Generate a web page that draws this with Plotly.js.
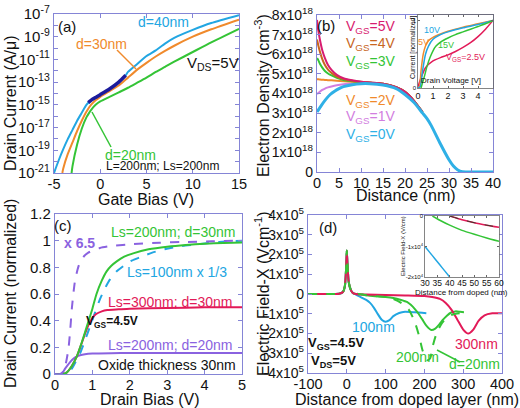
<!DOCTYPE html>
<html>
<head>
<meta charset="utf-8">
<script src="https://cdn.plot.ly/plotly-3.0.1.min.js"></script>
<style>
  html, body { margin: 0; padding: 0; background: #fff; }
  #fig { width: 520px; height: 408px; }
</style>
</head>
<body>
<div id="fig"></div>
<script>
// ---------- (a) transfer characteristics, V_DS = 5 V ----------
const gateD40 = [-5, -4.5, -4, -3.5, -3, -2.5, -2, -1.5, -1, -0.5, 0, 1, 2, 2.75, 3, 4, 5, 6, 7, 8, 10, 12, 15];
const currD40 = [1e-21, 1.26e-20, 1.26e-19, 1e-18, 6.3e-18, 4e-17, 2e-16, 1e-15, 2.5e-15, 4.5e-15, 7.9e-15, 2.5e-14, 1e-13, 4e-13, 7.9e-13, 4e-12, 2e-11, 6.3e-11, 2.5e-10, 7.9e-10, 4e-9, 1.6e-8, 7.9e-8];
const gateD30 = [-4.1, -4, -3.5, -3, -2.5, -2, -1.5, -1, -0.5, 0, 1, 2, 3, 4, 5, 6, 7, 8, 10, 12, 15];
const currD30 = [1e-21, 2.5e-21, 5e-20, 5e-19, 5e-18, 4e-17, 2.5e-16, 1e-15, 2.5e-15, 5e-15, 1.6e-14, 5e-14, 2.5e-13, 1.26e-12, 5e-12, 1.8e-11, 5.6e-11, 1.6e-10, 1e-9, 4.5e-9, 3.2e-8];
const gateD20 = [-3.1, -3, -2.5, -2, -1.5, -1.2, -1, -0.5, 0, 1, 2, 3, 4, 5, 6, 7, 8, 10, 12, 15];
const currD20 = [1e-21, 4e-21, 3.2e-19, 7.9e-18, 7.9e-17, 2e-16, 3.5e-16, 1e-15, 2e-15, 5e-15, 1.26e-14, 3.2e-14, 8.9e-14, 2.5e-13, 7.9e-13, 2.2e-12, 6.3e-12, 4.5e-11, 3.2e-10, 5e-9];
const gateSeg = [-1.3, -1, -0.5, 0, 1, 2, 2.75];
const currSeg = [1.6e-15, 2.5e-15, 4.5e-15, 7.9e-15, 2.5e-14, 1e-13, 4e-13];
const logTicks = [1e-7, 1e-8, 1e-9, 1e-10, 1e-11, 1e-12, 1e-13, 1e-14, 1e-15, 1e-16, 1e-17, 1e-18, 1e-19, 1e-20, 1e-21];
const logTickText = ['10<sup>-7</sup>', '', '10<sup>-9</sup>', '', '10<sup>-11</sup>', '', '10<sup>-13</sup>', '', '10<sup>-15</sup>', '', '10<sup>-17</sup>', '', '10<sup>-19</sup>', '', '10<sup>-21</sup>'];

// ---------- (b) electron density along the channel ----------
const distB = [0, 0.3, 0.7, 1.2, 1.8, 2.5, 3.3, 4.5, 6, 8, 10, 12, 15, 18, 20, 22, 24];
const nVg5 = [7.75e18, 7.2e18, 6.7e18, 6.2e18, 5.8e18, 5.45e18, 5.2e18, 4.95e18, 4.78e18, 4.67e18, 4.6e18, 4.56e18, 4.5e18, 4.32e18, 4.08e18, 3.64e18, 3.05e18];
const nVg4 = [6.75e18, 6.45e18, 6.1e18, 5.75e18, 5.45e18, 5.22e18, 5.05e18, 4.86e18, 4.74e18, 4.65e18, 4.6e18, 4.56e18, 4.5e18, 4.32e18, 4.08e18, 3.64e18, 3.05e18];
const nVg3 = [5.8e18, 5.7e18, 5.5e18, 5.32e18, 5.15e18, 5.02e18, 4.92e18, 4.8e18, 4.69e18, 4.63e18, 4.58e18, 4.55e18, 4.5e18, 4.32e18, 4.08e18, 3.64e18, 3.05e18];
const nVg2 = [4.72e18, 4.72e18, 4.71e18, 4.7e18, 4.69e18, 4.68e18, 4.67e18, 4.65e18, 4.63e18, 4.6e18, 4.58e18, 4.55e18, 4.5e18, 4.32e18, 4.08e18, 3.64e18, 3.05e18];
const nVg1 = [3.98e18, 4.02e18, 4.1e18, 4.18e18, 4.25e18, 4.31e18, 4.36e18, 4.42e18, 4.47e18, 4.51e18, 4.53e18, 4.52e18, 4.47e18, 4.3e18, 4.05e18, 3.6e18, 3.02e18];
const distB0 = [0, 1, 2, 3, 4, 5, 6, 8, 10, 12, 15, 18, 20, 22, 24, 25, 26, 28, 30, 31, 32, 33, 34, 40];
const nVg0 = [3.06e18, 3.4e18, 3.7e18, 3.95e18, 4.12e18, 4.25e18, 4.35e18, 4.45e18, 4.5e18, 4.5e18, 4.43e18, 4.25e18, 3.95e18, 3.55e18, 3.0e18, 2.72e18, 2.35e18, 1.45e18, 0.62e18, 0.3e18, 0.1e18, 0.01e18, 0, 0];
const densTicks = [0, 1e18, 2e18, 3e18, 4e18, 5e18, 6e18, 7e18, 8e18];
const densTickText = ['0', '1x10<sup>18</sup>', '2x10<sup>18</sup>', '3x10<sup>18</sup>', '4x10<sup>18</sup>', '5x10<sup>18</sup>', '6x10<sup>18</sup>', '7x10<sup>18</sup>', '8x10<sup>18</sup>'];

// inset of (b): normalized output curves
const vdIn5 = [0, 0.1, 0.2, 0.35, 0.5, 0.7, 1, 1.5, 2, 3, 4, 5];
const iIn5 = [0, 0.02, 0.25, 0.5, 0.62, 0.7, 0.75, 0.8, 0.84, 0.9, 0.95, 1];
const vdIn10 = [0, 0.15, 0.3, 0.5, 0.7, 1, 1.5, 2, 3, 4, 5];
const iIn10 = [0, 0.02, 0.25, 0.5, 0.62, 0.72, 0.79, 0.83, 0.89, 0.94, 1];
const vdIn15 = [0.2, 0.4, 0.6, 0.8, 1, 1.2, 1.5, 2, 2.5, 3, 3.5, 4, 4.5, 5];
const iIn15 = [0, 0.15, 0.32, 0.45, 0.55, 0.62, 0.68, 0.74, 0.79, 0.83, 0.87, 0.91, 0.95, 1];
const vdIn25 = [0, 0.2, 0.5, 1, 1.5, 2, 2.5, 3, 3.5, 4, 4.5, 5];
const iIn25 = [0.02, 0.15, 0.3, 0.4, 0.45, 0.49, 0.54, 0.6, 0.67, 0.76, 0.87, 1];

// ---------- (c) output characteristics, V_GS = 4.5 V ----------
const vdGreen = [0, 0.2, 0.31, 0.45, 0.58, 0.72, 0.85, 1.0, 1.11, 1.25, 1.38, 1.5, 1.65, 1.85, 2.09, 2.5, 3.0, 3.5, 4.0, 4.5, 5.0];
const idGreen = [0, 0, 0.01, 0.06, 0.13, 0.24, 0.355, 0.49, 0.6, 0.7, 0.77, 0.81, 0.845, 0.88, 0.905, 0.935, 0.955, 0.968, 0.977, 0.983, 0.987];
const vdRed = [0, 0.2, 0.31, 0.45, 0.58, 0.7, 0.8, 0.9, 1.0, 1.1, 1.25, 1.4, 1.7, 2.0, 3.0, 4.0, 5.0];
const idRed = [0, 0, 0.01, 0.06, 0.13, 0.22, 0.3, 0.37, 0.42, 0.45, 0.47, 0.48, 0.485, 0.49, 0.495, 0.5, 0.5];
const vdPurple = [0, 0.13, 0.2, 0.27, 0.35, 0.42, 0.49, 0.58, 0.67, 0.8, 1.0, 1.5, 2, 3, 4, 5];
const idPurple = [0, 0, 0.01, 0.04, 0.07, 0.095, 0.115, 0.13, 0.14, 0.148, 0.153, 0.156, 0.157, 0.158, 0.158, 0.158];
const vdPurpleX = [0, 0.15, 0.22, 0.29, 0.36, 0.41, 0.45, 0.49, 0.53, 0.6, 0.67, 0.78, 0.89, 1.0, 1.2, 1.5, 2.1, 2.8, 3.43, 4.2, 5.0];
const idPurpleX = [0, 0, 0.02, 0.08, 0.19, 0.34, 0.49, 0.6, 0.69, 0.78, 0.84, 0.885, 0.91, 0.925, 0.945, 0.96, 0.975, 0.985, 0.99, 0.995, 1.0];
const vdCyan = [0, 0.3, 0.36, 0.45, 0.55, 0.67, 0.8, 0.94, 1.07, 1.2, 1.35, 1.47, 1.65, 1.83, 2.05, 2.27, 2.6, 2.99, 3.4, 3.88, 4.4, 5.0];
const idCyan = [0, 0, 0.01, 0.04, 0.09, 0.155, 0.25, 0.36, 0.46, 0.56, 0.65, 0.71, 0.77, 0.81, 0.85, 0.875, 0.91, 0.94, 0.96, 0.975, 0.99, 1.0];

// ---------- (d) lateral electric field ----------
const posSpike = [-100, -50, -30, -20, -10, -5, -2, 0, 2, 5, 10, 15, 20];
const fieldSpike = [0, 0, 0, 0.01e5, 0.1e5, 0.4e5, 1.2e5, 2.2e5, 1.4e5, 0.6e5, 0.22e5, 0.06e5, 0.01e5];
const pos100 = [30, 40, 50, 60, 70, 80, 90, 100, 110, 120, 135, 150, 175, 205];
const field100 = [-0.1e5, -0.2e5, -0.3e5, -0.45e5, -0.7e5, -1.02e5, -1.3e5, -1.4e5, -1.32e5, -1.12e5, -0.96e5, -0.9e5, -0.93e5, -0.98e5];
const pos200 = [30, 40, 50, 60, 80, 100, 120, 140, 155, 165, 175, 185, 195, 205, 218, 228, 238, 248, 258, 268, 280, 292, 302];
const field200 = [0.005e5, -0.03e5, -0.06e5, -0.085e5, -0.12e5, -0.15e5, -0.2e5, -0.3e5, -0.4e5, -0.55e5, -0.75e5, -1.0e5, -1.3e5, -1.6e5, -1.82e5, -1.75e5, -1.55e5, -1.3e5, -1.1e5, -0.95e5, -0.88e5, -0.9e5, -0.92e5];
const pos300 = [30, 50, 100, 150, 200, 220, 240, 255, 270, 285, 300, 313, 326, 340, 355, 375, 400];
const field300 = [-0.02e5, -0.03e5, -0.05e5, -0.07e5, -0.1e5, -0.15e5, -0.25e5, -0.45e5, -0.8e5, -1.3e5, -1.8e5, -2.0e5, -1.8e5, -1.35e5, -1.08e5, -0.98e5, -0.97e5];
const posThin = [30, 40, 60, 80, 100, 120, 140, 160, 175, 186, 196, 208, 215, 222, 232, 246, 260, 280, 300];
const fieldThin = [0, -0.03e5, -0.085e5, -0.12e5, -0.16e5, -0.25e5, -0.45e5, -0.8e5, -1.4e5, -2.1e5, -2.9e5, -3.35e5, -3.25e5, -2.6e5, -1.95e5, -1.45e5, -1.15e5, -1.0e5, -0.95e5];
const fieldTicks = [-4e5, -3e5, -2e5, -1e5, 0, 1e5, 2e5, 3e5, 4e5];
const fieldTickText = ['-4x10<sup>5</sup>', '-3x10<sup>5</sup>', '-2x10<sup>5</sup>', '-1x10<sup>5</sup>', '0', '1x10<sup>5</sup>', '2x10<sup>5</sup>', '3x10<sup>5</sup>', '4x10<sup>5</sup>'];

// inset of (d): field close to the doped layer
const posIn100 = [30, 32, 34, 36, 38, 40];
const fieldIn100 = [-1.0e4, -1.2e4, -1.4e4, -1.6e4, -1.8e4, -2.0e4];
const posIn200 = [33, 36, 40, 45, 50, 55, 60];
const fieldIn200 = [0, -0.14e4, -0.3e4, -0.47e4, -0.6e4, -0.72e4, -0.83e4];
const posIn300 = [40, 45, 50, 55, 60];
const fieldIn300 = [0, -0.12e4, -0.22e4, -0.3e4, -0.37e4];

// ---------- helpers ----------
const W = 520, H = 408;
const FONT = 'Liberation Sans, Arial, sans-serif';
const FRAME = '#8585d6';
const dom = (a, b, n) => [a / n, b / n];
const domY = (top, bottom) => [1 - bottom / H, 1 - top / H];

function mainAxis(extra) {
  return Object.assign({
    showline: true, linecolor: FRAME, linewidth: 1.2, mirror: 'ticks',
    ticks: 'inside', ticklen: 4, tickcolor: FRAME, tickwidth: 1,
    showgrid: false, zeroline: false, fixedrange: true,
    tickfont: { family: FONT, size: 15, color: '#111' }
  }, extra);
}
function xAxis(extra) {
  return mainAxis(Object.assign({ ticklabelstandoff: -3, tickfont: { family: FONT, size: 14.5, color: '#111' } }, extra));
}
function insetAxis(extra) {
  return Object.assign({
    showline: true, linecolor: '#666', linewidth: 0.8, mirror: 'ticks',
    ticks: 'inside', ticklen: 2, tickcolor: '#666',
    showgrid: false, zeroline: false, fixedrange: true,
    tickfont: { family: FONT, size: 9, color: '#111' }
  }, extra);
}
function line(x, y, xa, ya, color, width, dash) {
  return { x: x, y: y, xaxis: xa, yaxis: ya, type: 'scatter', mode: 'lines',
           line: { color: color, width: width || 2, dash: dash || 'solid', shape: 'spline', smoothing: 0.6 },
           hoverinfo: 'skip', showlegend: false };
}
function label(text, x, y, color, size, extra) {
  return Object.assign({ text: text, x: x / W, y: 1 - y / H, xref: 'paper', yref: 'paper',
    showarrow: false, font: { family: FONT, size: size || 14, color: color || '#111' },
    xanchor: 'center', yanchor: 'middle' }, extra || {});
}
function bold(text, x, y, size) {
  return label(text, x, y, '#111', size, { font: { family: FONT, size: size, color: '#111', weight: 'bold' } });
}
function stroke(x0, y0, x1, y1, color) {
  return { type: 'line', xref: 'paper', yref: 'paper', x0: x0 / W, y0: 1 - y0 / H, x1: x1 / W, y1: 1 - y1 / H,
           line: { color: color, width: 1.5 } };
}

const C = {
  blue: '#22a6e2', orange: '#f08a2c', green: '#34c436', navy: '#1c1c9c',
  mag: '#d81c70', brown: '#c8661e', violet: '#d27ee0', red: '#e21a58', purple: '#8a62e0'
};

const traces = [
  // (a)
  line(gateD20, currD20, 'x', 'y', C.green),
  line(gateD30, currD30, 'x', 'y', C.orange),
  line(gateD40, currD40, 'x', 'y', C.blue),
  line(gateSeg, currSeg, 'x', 'y', C.navy, 3.5),
  // (b)
  line(distB, nVg1, 'x2', 'y2', C.violet),
  line(distB, nVg2, 'x2', 'y2', C.orange),
  line(distB, nVg3, 'x2', 'y2', C.green),
  line(distB, nVg4, 'x2', 'y2', C.brown),
  line(distB, nVg5, 'x2', 'y2', C.mag),
  line(distB0, nVg0, 'x2', 'y2', '#2fb0e6', 3),
  // (c)
  line(vdPurple, idPurple, 'x3', 'y3', C.purple),
  line(vdCyan, idCyan, 'x3', 'y3', C.blue, 2, 'dash'),
  line(vdRed, idRed, 'x3', 'y3', C.red),
  line(vdGreen, idGreen, 'x3', 'y3', C.green),
  line(vdPurpleX, idPurpleX, 'x3', 'y3', C.purple, 2, 'dash'),
  // (d)
  line(posSpike.concat(pos100), fieldSpike.concat(field100), 'x4', 'y4', C.blue),
  line(posSpike.concat(pos200), fieldSpike.concat(field200), 'x4', 'y4', C.green),
  line(posSpike.concat(pos300), fieldSpike.concat(field300), 'x4', 'y4', C.red),
  line(posSpike.concat(posThin), fieldSpike.concat(fieldThin), 'x4', 'y4', C.green, 2, 'dash'),
  // inset (b)
  line(vdIn25, iIn25, 'x5', 'y5', C.red, 1.5),
  line(vdIn5, iIn5, 'x5', 'y5', C.orange, 1.5),
  line(vdIn10, iIn10, 'x5', 'y5', C.blue, 1.5),
  line(vdIn15, iIn15, 'x5', 'y5', C.green, 1.5),
  // inset (d)
  line(posIn100, fieldIn100, 'x6', 'y6', C.blue, 1.5),
  line(posIn200, fieldIn200, 'x6', 'y6', C.green, 1.5),
  line(posIn300, fieldIn300, 'x6', 'y6', C.red, 1.5),
  line(posIn300, fieldIn300, 'x6', 'y6', '#3a3a2a', 1, 'dash')
];

const ann = [
  // (a)
  label('(a)', 67, 27, '#111', 15),
  label('d=40nm', 163, 22, C.blue, 14),
  label('d=30nm', 101, 44, C.orange, 14),
  label('V<sub>DS</sub>=5V', 213, 63, '#111', 15),
  label('d=20nm', 130, 155, C.green, 14),
  label('L=200nm; Ls=200nm', 162, 166, '#111', 12),
  // (b)
  label('(b)', 326, 25, '#111', 15),
  label('V<sub>GS</sub>=5V', 370, 27, C.mag, 14),
  label('V<sub>GS</sub>=4V', 370, 44, C.brown, 14),
  label('V<sub>GS</sub>=3V', 370, 62, C.green, 14),
  label('V<sub>GS</sub>=2V', 370, 101, C.orange, 14),
  label('V<sub>GS</sub>=1V', 370, 117, C.violet, 14),
  label('V<sub>GS</sub>=0V', 370, 135, '#2fb0e6', 14),
  label('10V', 432, 30, C.blue, 9),
  label('5V', 423, 42, C.orange, 9),
  label('15V', 446, 45, C.green, 9),
  label('V<sub>GS</sub>=2.5V', 465, 58, C.red, 9),
  label('Drain Voltage [V]', 451, 81, '#111', 8),
  label('Current [normalized]', 413, 48, '#111', 7, { textangle: -90 }),
  // (c)
  label('(c)', 63, 225, '#111', 15),
  label('x 6.5', 79, 243, C.purple, 14, { font: { family: FONT, size: 14, color: C.purple, weight: 'bold' } }),
  label('Ls=200nm; d=30nm', 173, 232, C.green, 14),
  label('Ls=100nm x 1/3', 177, 272, C.blue, 14),
  label('Ls=300nm; d=30nm', 170, 302, C.red, 14),
  bold('V<sub>GS</sub>=4.5V', 112, 322, 12),
  label('Ls=200nm; d=20nm', 170, 345, C.purple, 14),
  label('Oxide thickness 30nm', 167, 365, '#111', 14),
  // (d)
  label('(d)', 328, 227, '#111', 15),
  label('100nm', 373, 327, C.blue, 14),
  label('200nm', 417, 357, C.green, 14),
  label('300nm', 476, 344, C.red, 14),
  label('d=20nm', 474, 364, C.green, 14),
  bold('V<sub>GS</sub>=4.5V', 336, 343, 13),
  bold('V<sub>DS</sub>=5V', 333, 361, 13),
  label('Distance from doped (nm)', 461, 292, '#111', 8),
  label('Electric Field-X (V/cm)', 403, 246, '#111', 6, { textangle: -90 }),
  // axis titles
  label('Drain Current (A/\u03bc)', 10, 104, '#111', 16, { textangle: -90 }),
  label('Gate Bias (V)', 146, 199, '#111', 16),
  label('Electron Density (cm<sup>-3</sup>)', 262, 96, '#111', 16, { textangle: -90 }),
  label('Distance (nm)', 406, 195, '#111', 16),
  label('Drain Current (normalized)', 10, 294, '#111', 16, { textangle: -90 }),
  label('Drain Bias (V)', 150, 399, '#111', 16),
  label('Electric Field-X (Vcm<sup>-1</sup>)', 262, 294, '#111', 16, { textangle: -90 }),
  label('Distance from doped layer (nm)', 407, 399, '#111', 16)
];

const shapes = [
  stroke(117, 50, 136, 69, C.orange),
  stroke(111, 147, 92, 112, C.green),
  stroke(460, 362, 437, 350, C.green)
];

const smallY = { family: FONT, size: 14, color: '#111' };

const layout = {
  width: W, height: H,
  margin: { l: 0, r: 0, t: 0, b: 0 },
  paper_bgcolor: '#fff', plot_bgcolor: '#fff',
  showlegend: false,
  font: { family: FONT, color: '#111' },
  // (a)
  xaxis: xAxis({ domain: dom(54, 239, W), range: [-5, 15], anchor: 'y',
    tickvals: [-5, 0, 5, 10, 15], ticktext: ['-5', '0', '5', '10', '15'] }),
  yaxis: mainAxis({ domain: domY(14, 173), type: 'log', range: [-21, -7], anchor: 'x',
    tickvals: logTicks, ticktext: logTickText }),
  // (b)
  xaxis2: xAxis({ domain: dom(317, 493, W), range: [0, 40], anchor: 'y2', dtick: 5 }),
  yaxis2: mainAxis({ domain: domY(15, 172), range: [0, 8e18], anchor: 'x2',
    tickvals: densTicks, ticktext: densTickText, tickfont: smallY }),
  // (c)
  xaxis3: xAxis({ domain: dom(55, 242, W), range: [0, 5], anchor: 'y3', dtick: 1 }),
  yaxis3: mainAxis({ domain: domY(214, 374), range: [0, 1.2], anchor: 'x3',
    tickvals: [0, 0.2, 0.4, 0.6, 0.8, 1, 1.2], ticktext: ['0', '0.2', '0.4', '0.6', '0.8', '1', '1.2'] }),
  // (d)
  xaxis4: xAxis({ domain: dom(308, 502, W), range: [-100, 400], anchor: 'y4',
    tickvals: [-100, 0, 100, 200, 300, 400], ticktext: ['-100', '0', '100', '200', '300', '400'] }),
  yaxis4: mainAxis({ domain: domY(215, 373), range: [-4e5, 4e5], anchor: 'x4',
    tickvals: fieldTicks, ticktext: fieldTickText, tickfont: smallY }),
  // inset (b)
  xaxis5: insetAxis({ domain: dom(418, 493, W), range: [0, 5], anchor: 'y5',
    tickvals: [0, 1, 2, 3, 4], ticklabelstandoff: -1 }),
  yaxis5: insetAxis({ domain: domY(15, 88), range: [0, 1.08], anchor: 'x5',
    tickvals: [0, 1], ticktext: ['0', '1'], tickfont: { family: FONT, size: 6, color: '#111' } }),
  // inset (d)
  xaxis6: insetAxis({ domain: dom(425, 499, W), range: [30, 60], anchor: 'y6',
    tickvals: [30, 35, 40, 45, 50, 55, 60], ticklabelstandoff: -2,
    tickfont: { family: FONT, size: 8.5, color: '#111' } }),
  yaxis6: insetAxis({ domain: domY(216, 277), range: [-2e4, 0], anchor: 'x6',
    tickvals: [-2e4, -1e4, 0], ticktext: ['-2x10<sup>4</sup>', '-1x10<sup>4</sup>', '0'],
    tickfont: { family: FONT, size: 6, color: '#111' } }),
  annotations: ann,
  shapes: shapes
};

Plotly.newPlot('fig', traces, layout, { staticPlot: true, displayModeBar: false });
</script>
</body>
</html>
